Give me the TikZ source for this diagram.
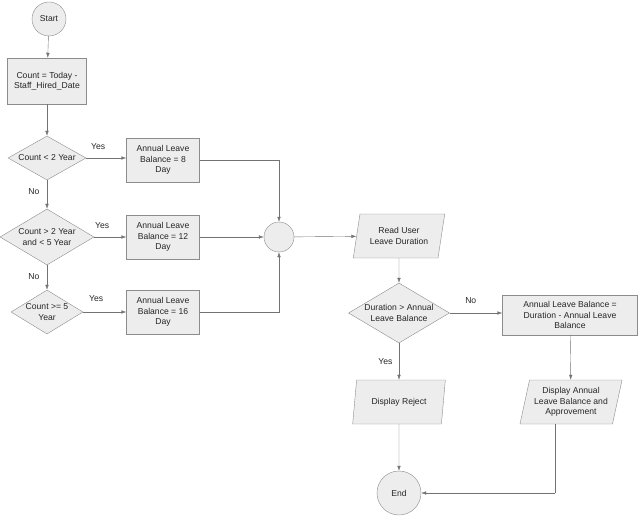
\documentclass[tikz,border=0pt]{standalone}
\usepackage{fontspec}
\setmainfont{Liberation Sans}
\usetikzlibrary{shapes.geometric,arrows.meta}
\begin{document}
\begin{tikzpicture}[x=1pt,y=-1pt,
  every node/.style={font=\fontsize{8.6}{10.5}\selectfont,align=center,text=black!85},
  base/.style={draw=black!45,fill=black!7,inner sep=0.5pt},
  box/.style={base,rectangle,minimum width=#1,minimum height=44},
  circ/.style={base,circle,minimum size=#1},
  dia/.style={base,diamond,aspect=1.75,inner sep=0pt},
  para/.style={base,trapezium,trapezium left angle=74,trapezium right angle=106,trapezium stretches=true,minimum width=#1,minimum height=44},
  ar/.style={draw=black!55,-{Latex[length=5pt,width=3.5pt]}},
  ln/.style={draw=black!55},
  lab/.style={font=\fontsize{8.6}{10.5}\selectfont}]
\useasboundingbox (0,0) rectangle (640,524);
\node[circ=34] (start) at (49,19) {Start};
\node[box=79,minimum height=46] (count) at (47,81) {Count = Today -\\Staff\_Hired\_Date};
\node[dia,minimum width=78,minimum height=44] (d1) at (47,158) {Count < 2 Year};
\node[box=73] (r1) at (163,160) {Annual Leave\\Balance = 8\\Day};
\node[dia,minimum width=94,minimum height=56] (d2) at (47,237) {Count > 2 Year\\and < 5 Year};
\node[box=73] (r2) at (163,237) {Annual Leave\\Balance = 12\\Day};
\node[dia,minimum width=72,minimum height=44] (d3) at (47,312) {Count >= 5\\Year};
\node[box=73] (r3) at (163,312) {Annual Leave\\Balance = 16\\Day};
\node[circ=30] (j) at (279,237) {};
\node[para=92] (read) at (399,236) {Read User\\Leave Duration};
\node[dia,minimum width=101,minimum height=60] (d4) at (399,313) {Duration > Annual\\Leave Balance};
\node[box=135,minimum height=40] (al) at (570,315) {Annual Leave Balance =\\Duration - Annual Leave\\Balance};
\node[para=93] (rej) at (399,402) {Display Reject};
\node[para=103] (disp) at (571,402) {Display Annual\\Leave Balance and\\Approvement};
\node[circ=44] (end) at (399,493) {End};
\draw[ar] (start) -- (count);
\draw[ar] (count) -- (d1);
\draw[ar] (d1) -- (d2) node[lab,pos=0.4,left=4pt] {No};
\draw[ar] (d2) -- (d3) node[lab,pos=0.45,left=4pt] {No};
\draw[ar] (d1.east) -- (r1.west|-d1.east) node[lab,pos=0.3,above=5pt] {Yes};
\draw[ar] (d2) -- (r2) node[lab,pos=0.25,above=5pt] {Yes};
\draw[ar] (d3.east) -- (r3.west|-d3.east) node[lab,pos=0.3,above=7pt] {Yes};
\draw[ar] (r1.east) -| (j.north);
\draw[ar] (r2) -- (j);
\draw[ar] (r3.east) -| (j.south);
\draw[ar] (j) -- (read);
\draw[ar] (read) -- (d4);
\draw[ar] (d4) -- (al.west|-d4) node[lab,pos=0.4,above=6pt] {No};
\draw[ar] (d4) -- (rej) node[lab,pos=0.5,left=3pt] {Yes};
\draw[ar] (al) -- (disp);
\draw[ar] (rej) -- (end);
\coordinate (c) at (555,493);
\draw[ln] (disp.south-|c) -- (c);
\draw[ar] (c) -- (end);
\end{tikzpicture}
\end{document}
